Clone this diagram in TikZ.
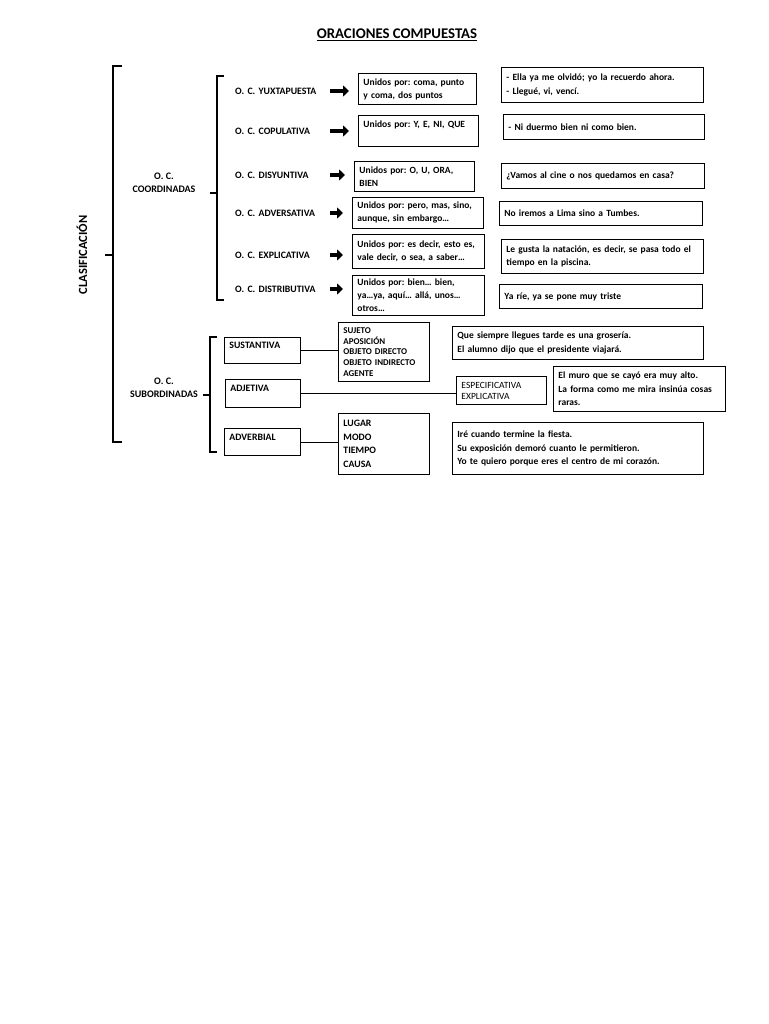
\documentclass[tikz,border=0pt]{standalone}
\usepackage{fontspec}
\setmainfont{Carlito}
\usetikzlibrary{arrows.meta}

\tikzset{
  caja/.style={draw, line width=0.9pt, anchor=north west, inner xsep=5pt, inner ysep=1pt, align=left},
  unidos/.style={caja, font=\bfseries\fontsize{9.5}{13}\selectfont},
  ejemplo/.style={caja, font=\bfseries\fontsize{9.5}{13.5}\selectfont},
  clase/.style={caja, text depth=10pt, font=\bfseries\fontsize{9.8}{11}\selectfont},
  tipo/.style={anchor=west, inner sep=0pt, text width=88pt, font=\bfseries\fontsize{9.8}{11}\selectfont},
  grupo/.style={align=center, font=\bfseries\fontsize{10}{13}\selectfont},
  flecha/.style={line width=4.5pt, -{Triangle[length=6pt,width=11pt]}, shorten <=7pt, shorten >=9pt},
  llave/.style={line width=1.5pt},
  linea/.style={line width=0.8pt}
}

\begin{document}
\frenchspacing
\begin{tikzpicture}[x=1pt,y=-1pt]
\useasboundingbox (0,0) rectangle (768,1024);
\node[font=\bfseries\fontsize{14.8}{16}\selectfont] (titulo) at (397,35) {\underline{ORACIONES COMPUESTAS}};
\node[rotate=90, font=\bfseries\fontsize{12.5}{14}\selectfont] (clasif) at (82,255) {CLASIFICACIÓN};
% llaves
\draw[llave] (122,66) -- (113,66) -- (113,442) -- (122,442);
\draw[llave] (113,255) -- (105,255);
\draw[llave] (224,76) -- (217,76) -- (217,300) -- (224,300);
\draw[llave] (217,193) -- (210,193);
\draw[llave] (217,337) -- (210,337) -- (210,452) -- (217,452);
\draw[llave] (210,395) -- (203,395);
\node[grupo] (coord) at (164,183) {O. C.\\COORDINADAS};
\node[grupo] (subord) at (164,388) {O. C.\\SUBORDINADAS};
% coordinadas
\foreach \y/\t/\n in {91/YUXTAPUESTA/yux, 131/COPULATIVA/cop, 175/DISYUNTIVA/dis,
  213/ADVERSATIVA/adv, 255/EXPLICATIVA/exp, 289/DISTRIBUTIVA/dist}{
	\node[tipo] (l\n) at (235,\y) {O. C. \t};
	}
\node[unidos, text width=108pt, minimum height=31pt] (uyux) at (358,73) {Unidos por: coma, punto\\y coma, dos puntos};
\node[unidos, text width=110pt, minimum height=31pt] (ucop) at (358,115) {Unidos por: Y, E, NI, QUE\\~};
\node[unidos, text width=110pt, minimum height=30pt] (udis) at (354,161) {Unidos por: O, U, ORA,\\BIEN};
\node[unidos, text width=121pt, minimum height=31pt] (uadv) at (352,197) {Unidos por: pero, mas, sino,\\aunque, sin embargo…};
\node[unidos, text width=122pt, minimum height=34pt] (uexp) at (352,234) {Unidos por: es decir, esto es,\\vale decir, o sea, a saber…};
\node[unidos, text width=122pt, minimum height=40pt] (udist) at (352,275) {Unidos por: bien… bien,\\ya…ya, aquí… allá, unos…\\otros…};
\foreach \n in {yux, cop, dis, adv, exp, dist}{
	\draw[flecha] (l\n.east) -- (l\n.east -| u\n.west);
	}
\node[ejemplo, text width=192pt, minimum height=35pt] (eyux) at (501,67) {- Ella ya me olvidó; yo la recuerdo ahora.\\- Llegué, vi, vencí.};
\node[ejemplo, text width=191pt, minimum height=25pt] (ecop) at (503,114) {- Ni duermo bien ni como bien.};
\node[ejemplo, text width=193pt, minimum height=25pt] (edis) at (501,163) {¿Vamos al cine o nos quedamos en casa?};
\node[ejemplo, text width=193pt, minimum height=24pt] (eadv) at (499,201) {No iremos a Lima sino a Tumbes.};
\node[ejemplo, text width=192pt, minimum height=34pt] (eexp) at (501,239) {Le gusta la natación, es decir, se pasa todo el\\tiempo en la piscina.};
\node[ejemplo, text width=193pt, minimum height=24pt] (edist) at (499,284) {Ya ríe, ya se pone muy triste};
% subordinadas
\node[clase, text width=66pt, minimum height=26pt] (sust) at (224,337) {SUSTANTIVA};
\node[clase, text width=65pt, minimum height=28pt] (adj) at (225,379) {ADJETIVA};
\node[clase, text width=66pt, minimum height=27pt] (adverb) at (224,428) {ADVERBIAL};
\node[caja, text width=81pt, minimum height=59pt, font=\bfseries\fontsize{8.9}{10.7}\selectfont] (funciones) at (338,322)
  {SUJETO\\APOSICIÓN\\OBJETO DIRECTO\\OBJETO INDIRECTO\\AGENTE};
\node[caja, text width=80pt, minimum height=28pt, font=\fontsize{9.5}{11}\selectfont] (especif) at (456,376)
  {ESPECIFICATIVA\\EXPLICATIVA};
\node[caja, text width=81pt, minimum height=61pt, font=\bfseries\fontsize{9.8}{13.7}\selectfont] (circunst) at (338,413)
  {LUGAR\\MODO\\TIEMPO\\CAUSA};
\draw[linea] (sust.east) -- (sust.east -| funciones.west);
\draw[linea] (adj.east) -- (adj.east -| especif.west);
\draw[linea] (adverb.east) -- (adverb.east -| circunst.west);
\node[ejemplo, text width=241pt, minimum height=33pt] (esust) at (452,326) {Que siempre llegues tarde es una grosería.\\El alumno dijo que el presidente viajará.};
\node[ejemplo, text width=162pt, minimum height=45pt] (eadj) at (553,366) {El muro que se cayó era muy alto.\\La forma como me mira insinúa cosas\\raras.};
\node[ejemplo, text width=241pt, minimum height=52pt] (eadverb) at (452,422) {Iré cuando termine la fiesta.\\Su exposición demoró cuanto le permitieron.\\Yo te quiero porque eres el centro de mi corazón.};
\end{tikzpicture}
\end{document}
